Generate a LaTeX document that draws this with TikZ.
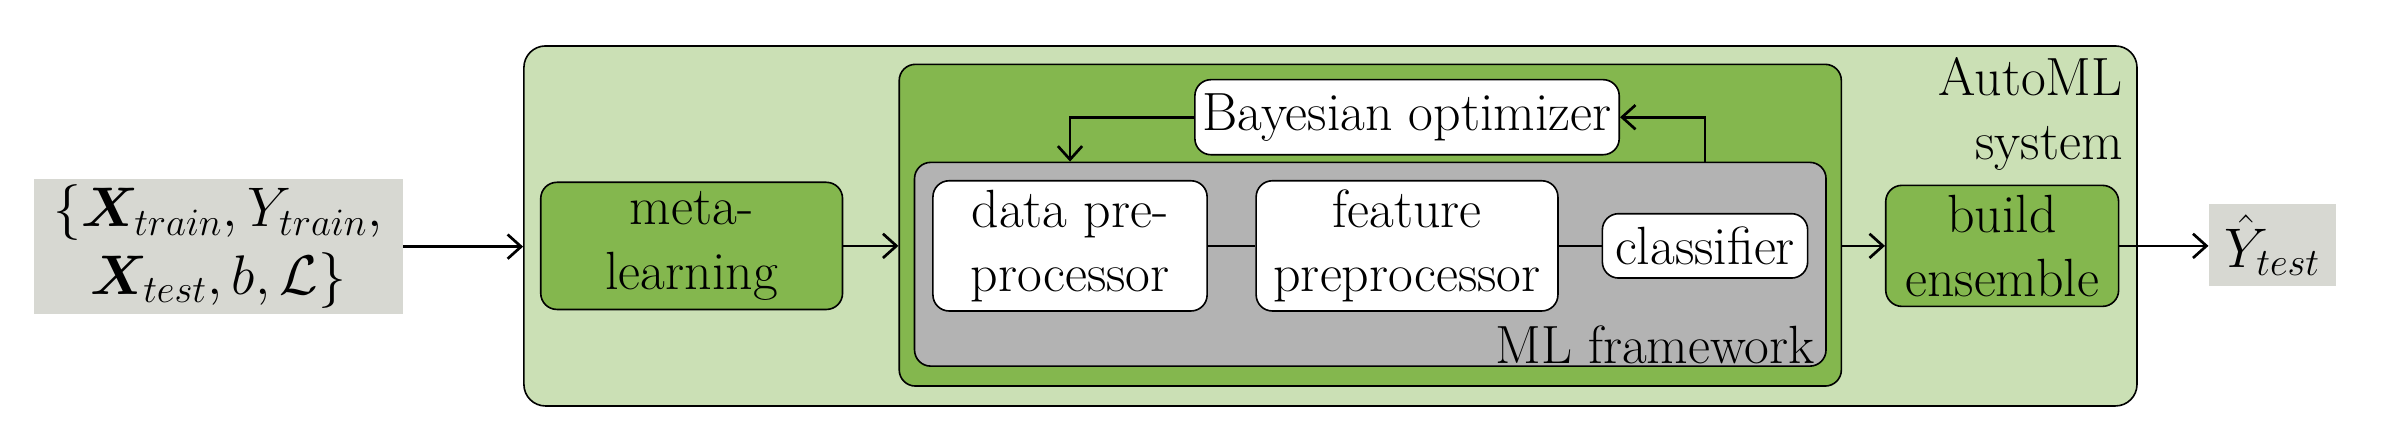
\documentclass[tikz,border=0pt]{standalone}
\usepackage{amsmath,bm}
\usetikzlibrary{arrows.meta}
\definecolor{lgreen}{HTML}{CBE0B5}
\definecolor{dgreen}{HTML}{84B74E}
\definecolor{lgray}{HTML}{D7D8D2}
\definecolor{mgray}{HTML}{B3B3B3}
\begin{document}
\begin{tikzpicture}[x=0.02cm,y=-0.02cm,font=\fontsize{20}{24}\selectfont,
  box/.style={draw,rounded corners=6pt,line width=0.6pt,align=center,inner sep=0pt},
  flow/.style={line width=1pt,-{Straight Barb[length=5pt,width=9pt]}},
  link/.style={line width=1pt}]
\useasboundingbox (0,0) rectangle (1568,278);
% containers
\node[box,fill=lgreen,rounded corners=8pt,minimum width=1053*0.02cm,minimum height=235*0.02cm] (auto) at (868.5,147.5) {};
\node[box,fill=dgreen,minimum width=615*0.02cm,minimum height=210*0.02cm] (mlbox) at (894.5,147) {};
\node[box,fill=mgray,minimum width=595*0.02cm,minimum height=133*0.02cm] (fw) at (894.5,172.5) {};
\node[anchor=north east,align=right,inner sep=0pt] (autolbl) at (1386,37) {AutoML\\system};
\node[anchor=south east,inner sep=0pt] (fwlbl) at (1185,238) {ML framework};
% boxes
\node[fill=lgray,minimum width=241*0.02cm,minimum height=88*0.02cm,align=center,inner sep=0pt,font=\fontsize{20}{25}\selectfont] (in) at (142.5,161)
  {$\{\bm{X}_{train},Y_{train},$\\$\bm{X}_{test},b,\mathcal{L}\}$};
\node[box,fill=dgreen,minimum width=197*0.02cm,minimum height=83*0.02cm] (meta) at (451.5,160.5) {meta-\\learning};
\node[box,fill=white,minimum width=277*0.02cm,minimum height=49*0.02cm] (bayes) at (918.5,76.5) {Bayesian optimizer};
\node[box,fill=white,minimum width=179*0.02cm,minimum height=85*0.02cm] (dpp) at (698.5,160.5) {data pre-\\processor};
\node[box,fill=white,minimum width=197*0.02cm,minimum height=85*0.02cm] (fpp) at (918.5,160.5) {feature\\preprocessor};
\node[box,fill=white,minimum width=134*0.02cm,minimum height=42*0.02cm] (clf) at (1113,160.5) {classifier};
\node[box,fill=dgreen,minimum width=152*0.02cm,minimum height=79*0.02cm] (ens) at (1307,160.5) {build\\ensemble};
\node[fill=lgray,minimum width=83*0.02cm,minimum height=54*0.02cm,inner sep=0pt] (out) at (1483.5,160) {$\hat{Y}_{test}$};
% connectors
\draw[flow] (in.east) -- (auto.west |- in.east);
\draw[flow] (meta.east) -- (mlbox.west |- meta.east);
\draw[link] (dpp) -- (fpp);
\draw[link] (fpp) -- (clf);
\draw[flow] (mlbox.east |- ens.west) -- (ens.west);
\draw[flow] (ens.east) -- (out.west |- ens.east);
\draw[flow] (clf.north |- fw.north) |- (bayes.east);
\draw[flow] (bayes.west) -| (dpp.north |- fw.north);
\end{tikzpicture}
\end{document}
